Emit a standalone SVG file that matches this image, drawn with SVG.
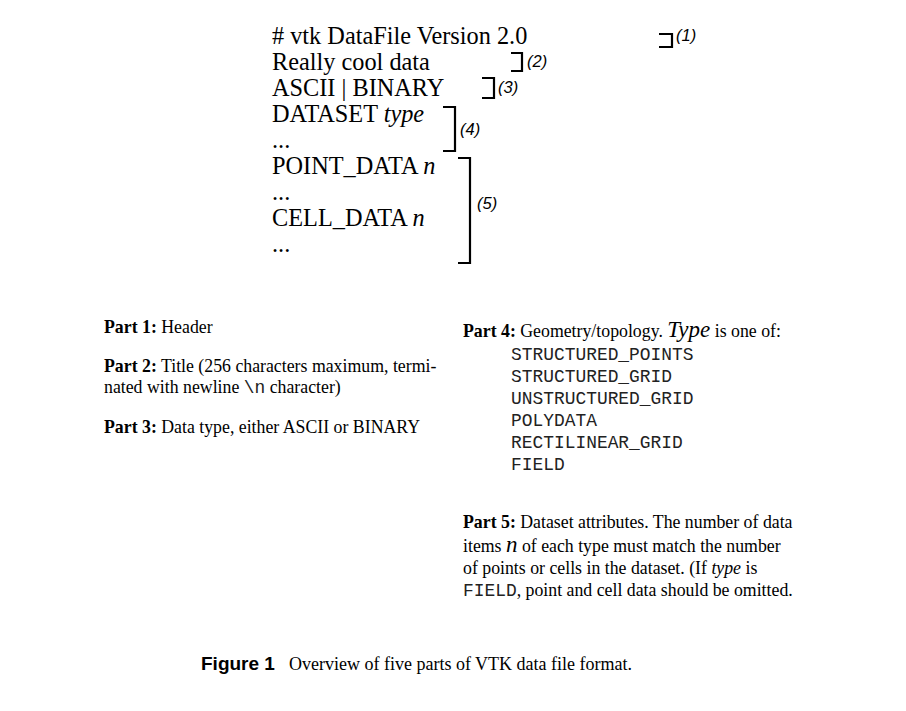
<svg xmlns="http://www.w3.org/2000/svg" width="906" height="711" viewBox="0 0 906 711">
<style>
.code{font-family:"Liberation Serif","Times New Roman",serif;font-size:24.3px;fill:#000}
.lbl{font-family:"Liberation Sans",Arial,sans-serif;font-size:16.5px;font-style:italic;fill:#000}
.br{fill:none;stroke:#000;stroke-width:2.2}
.txt{font-family:"Liberation Serif","Times New Roman",serif;font-size:17.8px;fill:#000}
.mono{font-family:"Liberation Mono","Courier New",monospace;font-size:17.9px;fill:#222}
.b{font-weight:bold}
.i{font-style:italic}
</style>
<rect width="906" height="711" fill="#fff"/>
<g id="file">
<text class="code" x="272" y="44"># vtk DataFile Version 2.0</text>
<text class="code" x="272" y="70">Really cool data</text>
<text class="code" x="272" y="96">ASCII | BINARY</text>
<text class="code" x="272" y="122">DATASET <tspan class="i">type</tspan></text>
<text class="code" x="272" y="148">...</text>
<text class="code" x="272" y="174">POINT_DATA <tspan class="i">n</tspan></text>
<text class="code" x="272" y="200">...</text>
<text class="code" x="272" y="226">CELL_DATA <tspan class="i">n</tspan></text>
<text class="code" x="272" y="252">...</text>
</g>
<g id="brackets">
<polyline class="br" points="659,34 672,34 672,47 659,47"/>
<polyline class="br" points="511,53 522,53 522,71 511,71"/>
<polyline class="br" points="482,78 494,78 494,98 482,98"/>
<polyline class="br" points="443,107 455,107 455,151 443,151"/>
<polyline class="br" points="458,158 470,158 470,263 458,263"/>
</g>
<g id="labels">
<text class="lbl" x="676" y="41">(1)</text>
<text class="lbl" x="527" y="67">(2)</text>
<text class="lbl" x="498" y="93">(3)</text>
<text class="lbl" x="460" y="135">(4)</text>
<text class="lbl" x="477" y="209">(5)</text>
</g>
<g id="part1"><text class="txt" x="104" y="333"><tspan class="b">Part 1:</tspan> Header</text></g>
<g id="part2">
<text class="txt" x="104" y="372"><tspan class="b">Part 2:</tspan> Title (256 characters maximum, termi-</text>
<text class="txt" x="104" y="393">nated with newline <tspan class="mono" font-size="17px">\n</tspan> character)</text>
</g>
<g id="part3"><text class="txt" x="104" y="433"><tspan class="b">Part 3:</tspan> Data type, either ASCII or BINARY</text></g>
<g id="part4">
<text class="txt" x="463" y="337"><tspan class="b">Part 4:</tspan> Geometry/topology. <tspan class="i" font-size="23px">Type</tspan> is one of:</text>
<text class="mono" x="511" y="360">STRUCTURED_POINTS</text>
<text class="mono" x="511" y="382">STRUCTURED_GRID</text>
<text class="mono" x="511" y="404">UNSTRUCTURED_GRID</text>
<text class="mono" x="511" y="426">POLYDATA</text>
<text class="mono" x="511" y="448">RECTILINEAR_GRID</text>
<text class="mono" x="511" y="470">FIELD</text>
</g>
<g id="part5">
<text class="txt" x="463" y="528"><tspan class="b">Part 5:</tspan> Dataset attributes. The number of data</text>
<text class="txt" x="463" y="552">items <tspan class="i" font-size="23px">n</tspan> of each type must match the number</text>
<text class="txt" x="463" y="574">of points or cells in the dataset. (If <tspan class="i">type</tspan> is</text>
<text class="txt" x="463" y="596"><tspan class="mono" font-size="17px">FIELD</tspan>, point and cell data should be omitted.</text>
</g>
<g id="caption">
<text x="201" y="670" font-family="'Liberation Sans',Arial,sans-serif" font-size="19px" font-weight="bold">Figure 1</text>
<text x="289" y="670" font-family="'Liberation Serif','Times New Roman',serif" font-size="18px">Overview of five parts of VTK data file format.</text>
</g>
</svg>
